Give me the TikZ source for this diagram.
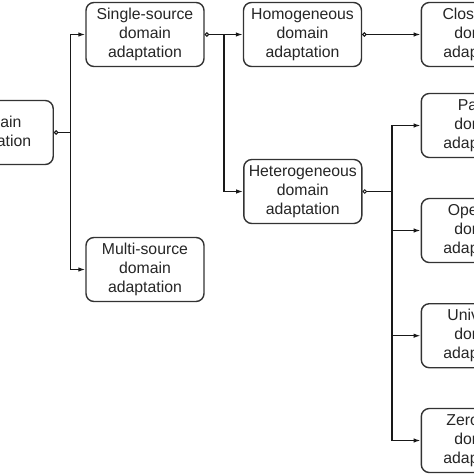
\documentclass[tikz,border=0pt]{standalone}
\usepackage{fontspec}
\setmainfont{Liberation Sans}
\usetikzlibrary{arrows.meta}
\tikzset{
  box/.style={draw=black!80, line width=1.4pt, rounded corners=8pt, minimum width=118pt, minimum height=64pt, inner sep=0pt, align=center, text=black!85, font=\fontsize{15.8pt}{19pt}\selectfont},
  conn/.style={draw=black!90, line width=1.3pt},
  tailc/.style={conn, {Circle[open,length=4.5pt,width=4.5pt,line width=1pt]}-},
  arr/.style={conn, -{Latex[length=7pt,width=4.5pt]}}
}
\begin{document}
\begin{tikzpicture}[x=1pt,y=-1pt]
\useasboundingbox (0,0) rectangle (474,474);
\fill[white] (0,0) rectangle (474,474);
\clip (0,0) rectangle (474,474);
\node[box] (root) at (-5.8,132.5) {Domain\\adaptation};
\node[box] (single) at (145,34.5) {Single-source\\domain\\adaptation};
\node[box] (multi) at (145,269.5) {Multi-source\\domain\\adaptation};
\node[box] (homo) at (302.5,34.5) {Homogeneous\\domain\\adaptation};
\node[box] (hetero) at (302.8,191.5) {Heterogeneous\\domain\\adaptation};
\node[box] (closed) at (480.3,34.5) {Closed-set\\domain\\adaptation};
\node[box] (partial) at (480.3,125.5) {Partial\\domain\\adaptation};
\node[box] (open) at (480.3,230.5) {Open-set\\domain\\adaptation};
\node[box] (univ) at (480.3,335.7) {Universal\\domain\\adaptation};
\node[box] (zero) at (480.3,440.5) {Zero-shot\\domain\\adaptation};
% root
\draw[tailc] (root.east) -- ++(16.6,0) coordinate (t1);
\draw[arr] (t1) |- (single.west);
\draw[arr] (t1) |- (multi.west);
% single
\draw[tailc] (single.east) -- ++(19.3,0) coordinate (t2);
\draw[arr] (t2) -- (homo.west);
\draw[arr] (t2) |- (hetero.west);
% homo
\draw[tailc] (homo.east) -- ++(25,0) coordinate (t3);
\draw[arr] (t3) -- (closed.west);
% hetero
\draw[tailc] (hetero.east) -- ++(29.4,0) coordinate (t4);
\draw[arr] (t4) |- (partial.west);
\draw[arr] (t4) |- (open.west);
\draw[arr] (t4) |- (univ.west);
\draw[arr] (t4) |- (zero.west);
\end{tikzpicture}
\end{document}
